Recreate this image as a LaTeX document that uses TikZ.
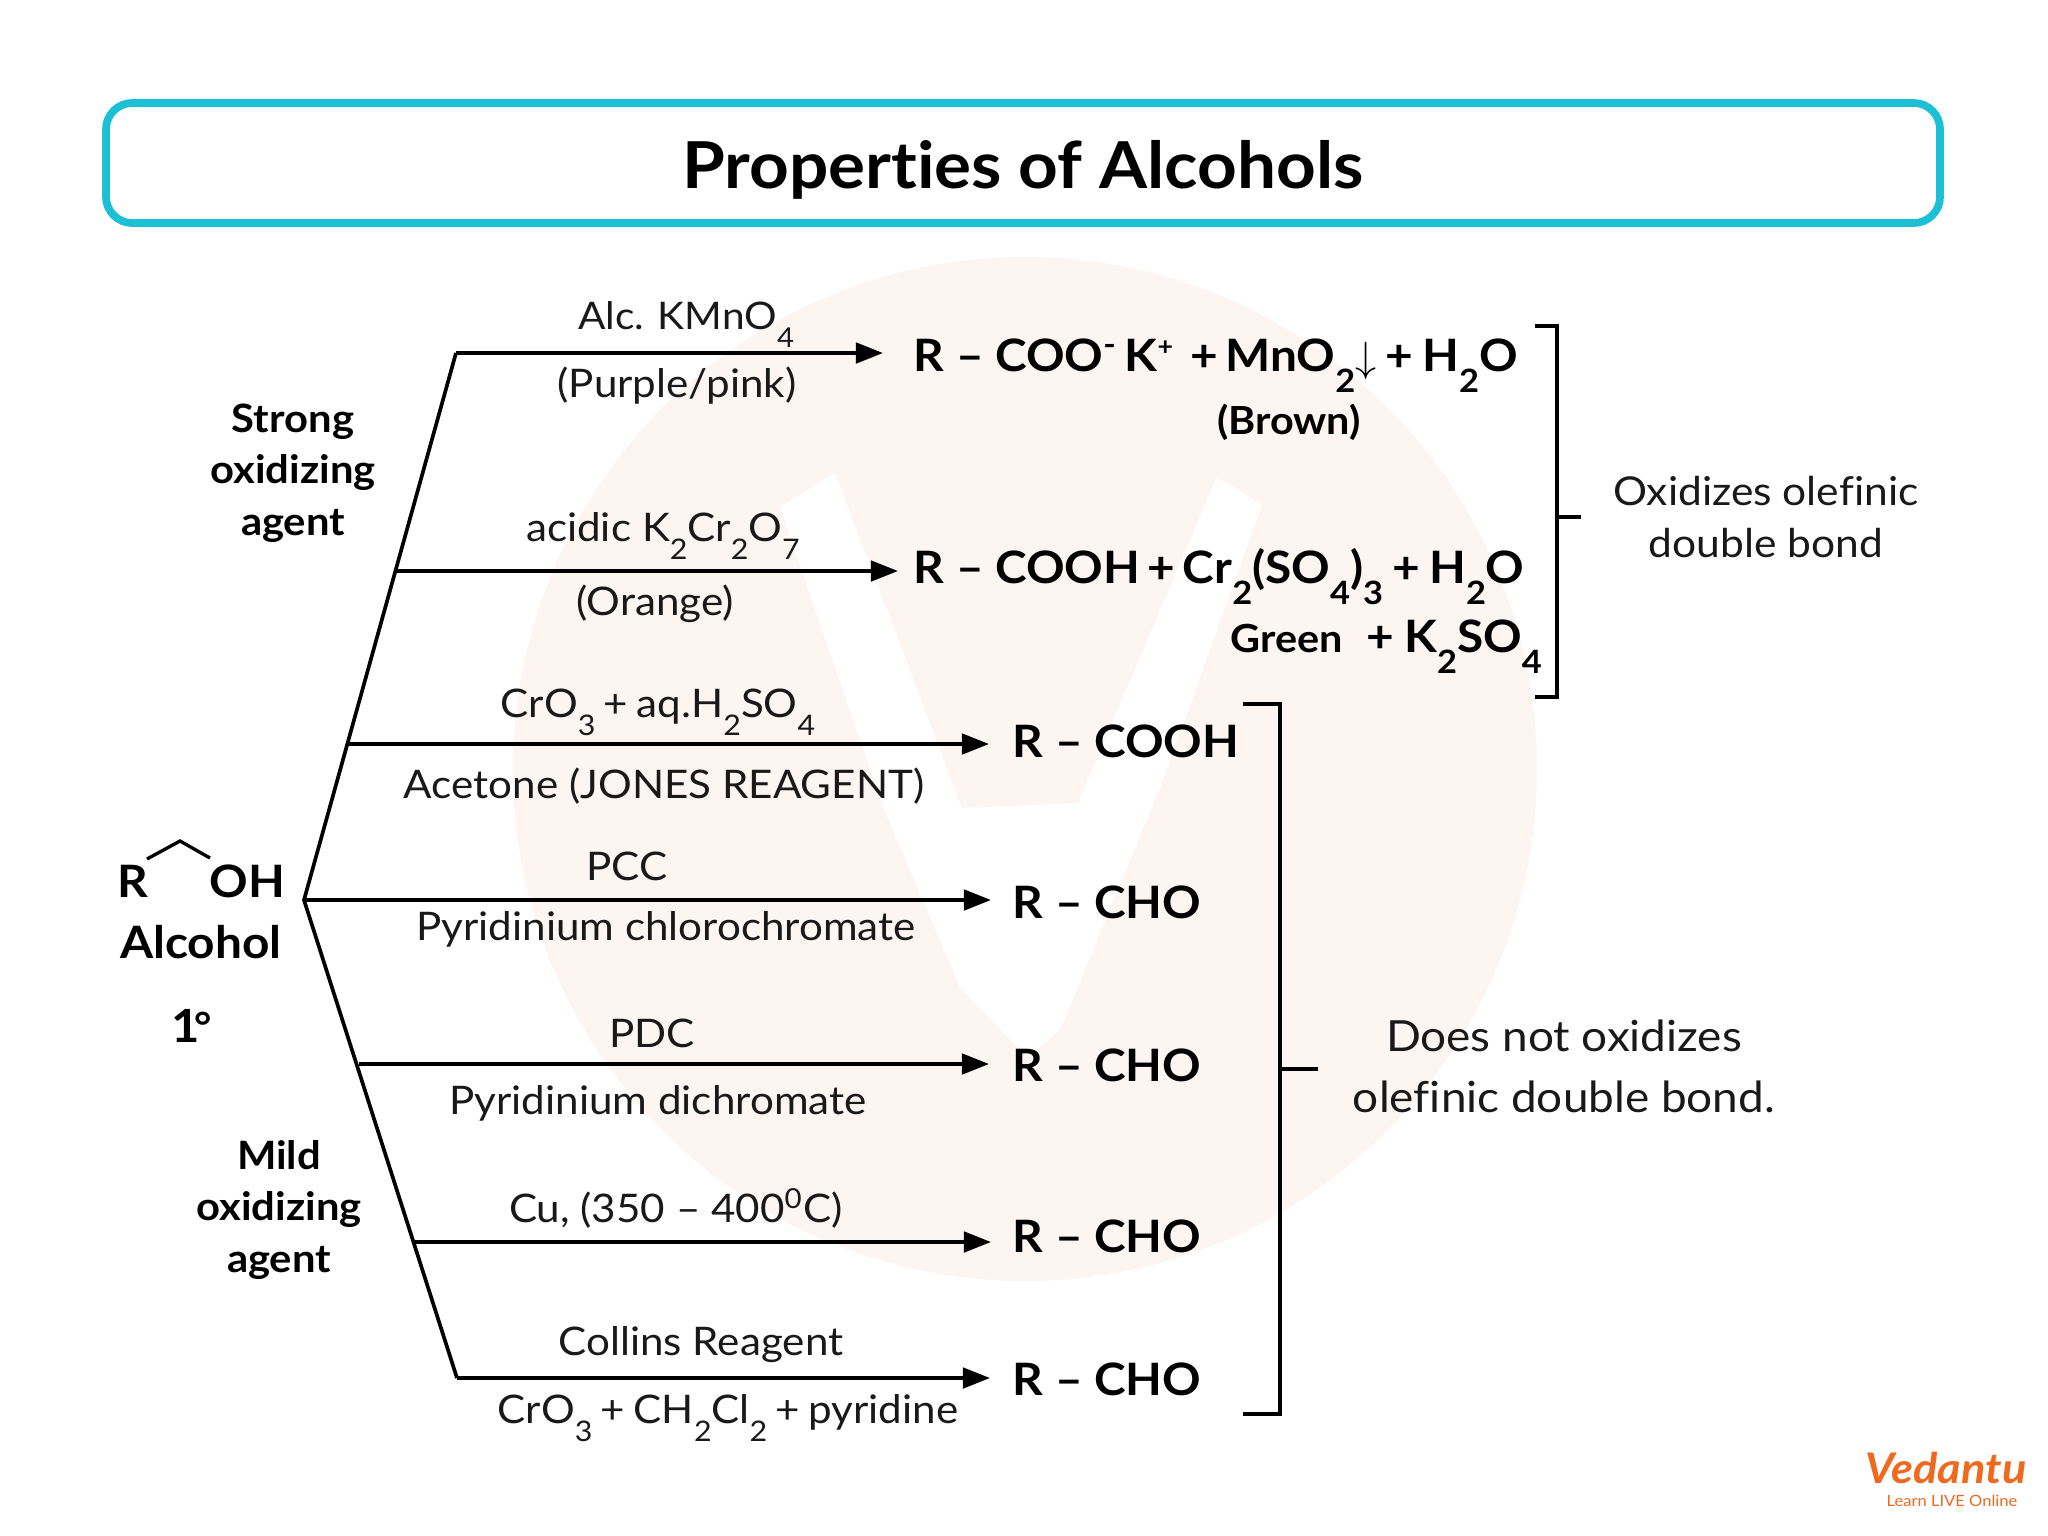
\documentclass[tikz,border=0pt]{standalone}
\usepackage{fontspec}
\setmainfont{Lato}[FakeStretch=1.07,Ligatures=NoCommon]
\usetikzlibrary{arrows.meta,positioning}
\definecolor{boxcyan}{HTML}{1BBFD6}
\definecolor{wmark}{HTML}{FDF5F1}
\definecolor{logo}{HTML}{EE6A1F}
\newcommand{\dn}[1]{\raisebox{-0.95ex}{\scalebox{0.72}{#1}}}
\newcommand{\pl}{\hspace{2.4pt}+\hspace{2.4pt}}
\newcommand{\bpl}{\hspace{2.6pt}+\hspace{2.6pt}}
\tikzset{
	reagent/.style={font=\fontsize{11.2}{13}\selectfont,inner sep=0pt,anchor=base,text=black!90},
	product/.style={font=\fontsize{12.7}{14}\selectfont\bfseries,inner sep=0pt,anchor=base west},
	side/.style={font=\fontsize{11.1}{14.6}\selectfont\bfseries,inner sep=0pt,align=center},
	small/.style={font=\fontsize{11}{13}\selectfont\bfseries,inner sep=0pt,anchor=base},
	branch/.style={line width=1.05pt,black},
	rxn/.style={line width=1.05pt,black,-{Triangle[length=7.7pt,width=5.8pt]}},
	brak/.style={line width=0.95pt,black}
}
\begin{document}
\begin{tikzpicture}[x=0.01cm,y=-0.01cm]
	\useasboundingbox (0,0) rectangle (2048,1536);
	% watermark
	\fill[wmark] (1025,769) circle (512);
	\fill[white] (780,507) -- (835,473) -- (962,808) -- (1078,803) -- (1217,477) -- (1262,505) -- (1163,780) -- (1060,1030) -- (1027,1057) -- (960,987) -- (883,807) -- cycle;
	% title
	\node[draw=boxcyan,line width=2.2pt,rounded corners=7.5pt,minimum width=18.33cm,minimum height=1.2cm,inner sep=0pt] (titlebox) at (1023,163) {};
	\node[font=\fontsize{18.4}{20}\selectfont\bfseries,inner sep=0pt,anchor=base] (title) at (1023,188.5) {Properties of Alcohols};
	% start points of the branches
	\coordinate (top) at (456,353);
	\coordinate (s2) at (396,571);
	\coordinate (s3) at (349,744);
	\coordinate (root) at (304,900);
	\coordinate (s5) at (359,1064);
	\coordinate (s6) at (415,1242);
	\coordinate (bot) at (457,1378);
	\draw[branch] (top) -- (root) -- (bot);
	% alcohol
	\node[product] (r) at (117,897) {R};
	\node[product] (oh) at (209,897) {OH};
	\coordinate (ch) at (180,841);
	\draw[line width=0.95pt] (147,859) -- (ch) -- (210,858);
	\node[product,anchor=base] (alc) at (201,958) {Alcohol};
	\node[font=\fontsize{13}{14}\selectfont\bfseries,inner sep=0pt,anchor=base] (deg) at (192,1042) {1\hspace{-1.5pt}\raisebox{0.4pt}{\scalebox{0.85}{°}}};
	\node[side] (strong) at (293,473) {Strong\\oxidizing\\agent};
	\node[side] (mild) at (279,1210) {Mild\\oxidizing\\agent};
	% products
	\node[product] (p1) at (913,371) {R – COO\textsuperscript{-}\hspace{2pt}K\textsuperscript{\scalebox{0.8}{+}}\hspace{4.4pt}+\,MnO\dn{2}$\downarrow$\bpl H\dn{2}O};
	\node[small] (brown) at (1289,434) {(Brown)};
	\node[product] (p2) at (913,583) {R – COOH\,+\,Cr\dn{2}(SO\dn{4})\dn{3}\bpl H\dn{2}O};
	\node[product] (green) at (1230,652) {{\fontsize{11}{13}\selectfont Green}\ \ +\hspace{3pt}K\dn{2}SO\dn{4}};
	\node[product] (p3) at (1012,757) {R – COOH};
	\node[product] (p4) at (1012,918) {R – CHO};
	\node[product] (p5) at (1012,1081) {R – CHO};
	\node[product] (p6) at (1012,1252) {R – CHO};
	\node[product] (p7) at (1012,1395) {R – CHO};
	% arrows
	\draw[rxn] (top) -- (883,353);
	\draw[rxn] (s2) -- (898,571);
	\draw[rxn] (s3) -- (989,744);
	\draw[rxn] (root) -- (991,900);
	\draw[rxn] (s5) -- (989,1064);
	\draw[rxn] (s6) -- (991,1242);
	\draw[rxn] (bot) -- (990,1378);
	% reagents
	\node[reagent,font=\fontsize{10.8}{13}\selectfont] (a1) at (686,329) {Alc. KMnO\dn{4}};
	\node[reagent] (b1) at (677,397) {(Purple/pink)};
	\node[reagent] (a2) at (663,541) {acidic K\dn{2}Cr\dn{2}O\dn{7}};
	\node[reagent] (b2) at (655,615) {(Orange)};
	\node[reagent] (a3) at (658,717) {CrO\dn{3}\pl aq.H\dn{2}SO\dn{4}};
	\node[reagent] (b3) at (664,798) {Acetone (JONES REAGENT)};
	\node[reagent] (a4) at (627,880) {PCC};
	\node[reagent] (b4) at (666,940) {Pyridinium chlorochromate};
	\node[reagent] (a5) at (652,1047) {PDC};
	\node[reagent] (b5) at (658,1114) {Pyridinium dichromate};
	\node[reagent] (a6) at (676,1222) {Cu, (350 – 400\textsuperscript{0}C)};
	\node[reagent] (a7) at (701,1355) {Collins Reagent};
	\node[reagent] (b7) at (728,1423) {CrO\dn{3}\pl CH\dn{2}Cl\dn{2}\pl pyridine};
	% brackets
	\coordinate (bk1) at (1557,326);
	\coordinate (bk2) at (1557,697);
	\coordinate (t1) at (1557,517);
	\draw[brak] (1535,326) -- (bk1) -- (bk2) -- (1535,697);
	\draw[brak] (t1) -- ++(24,0);
	\coordinate (bk3) at (1280,704);
	\coordinate (bk4) at (1280,1414);
	\coordinate (t2) at (1280,1069);
	\draw[brak] (1243,704) -- (bk3) -- (bk4) -- (1243,1414);
	\draw[brak] (t2) -- ++(38,0);
	\node[inner sep=0pt,align=center,text=black!90,font=\fontsize{11.3}{14.8}\selectfont] (c1) at (1766,517) {Oxidizes olefinic\\double bond};
	\node[inner sep=0pt,align=center,text=black!90,font=\fontsize{12.2}{17.4}\selectfont] (c2) at (1564,1066) {Does not oxidizes\\olefinic double bond.};
	% logo
	\node[inner sep=0pt,text=logo,font=\fontsize{12}{13}\selectfont\bfseries\itshape] (vd) at (1946,1468) {Vedantu};
	\node[inner sep=0pt,text=logo,font=\fontsize{4.4}{5}\selectfont] (ll) at (1952,1501) {Learn LIVE Online};
\end{tikzpicture}
\end{document}
